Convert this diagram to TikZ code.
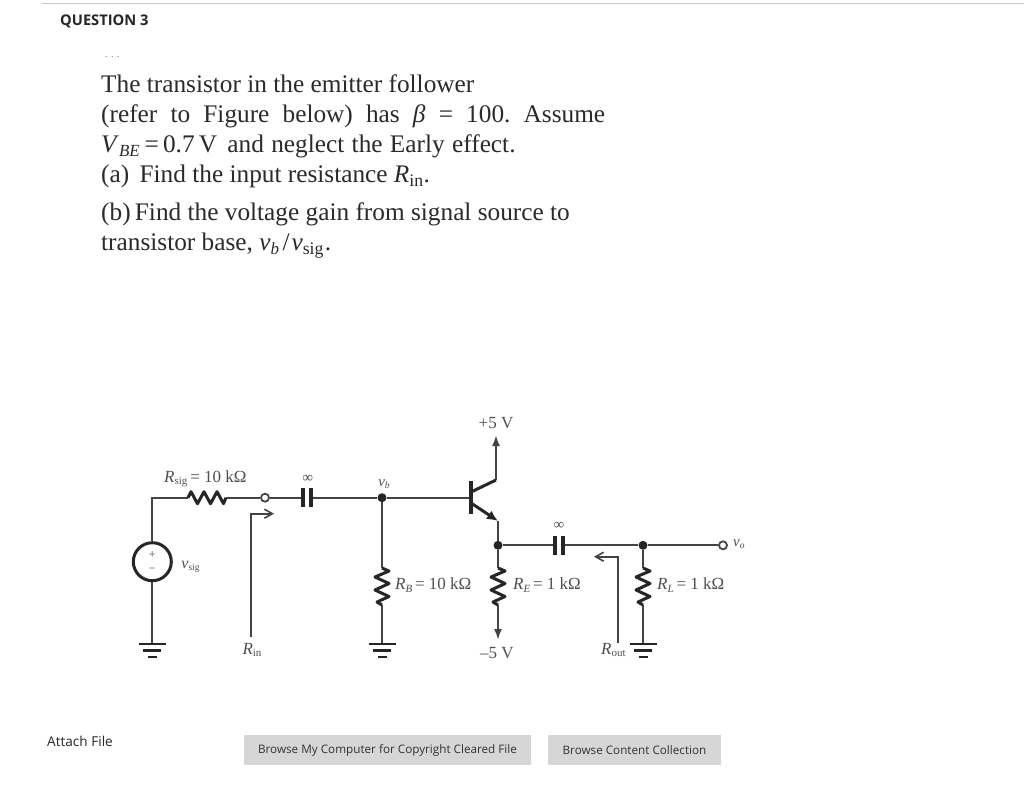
\documentclass[tikz,border=0pt]{standalone}
\usepackage{fontspec}
\setmainfont{Liberation Serif}
\newfontfamily\uifont{Open Sans}
\usetikzlibrary{arrows.meta}
\definecolor{wirec}{HTML}{444444}
\definecolor{labelc}{HTML}{4F4F4F}
\definecolor{textc}{HTML}{2A2A2A}
\newcommand{\subt}[1]{\raisebox{-2.5pt}{\fontsize{11}{11}\selectfont #1}}
\newcommand{\subs}[1]{\raisebox{-2pt}{\fontsize{9.5}{10}\selectfont #1}}
\tikzset{
 wire/.style={draw=wirec,line width=1.9pt},
 heavy/.style={draw=black!85,line width=3pt,line join=round},
 dotnode/.style={circle,fill=black!85,inner sep=0pt,minimum size=9pt},
 opennode/.style={circle,draw=wirec,fill=white,line width=1.8pt,inner sep=0pt,minimum size=8pt},
 para/.style={anchor=base west,inner sep=0pt,text=textc,font=\fontsize{25.3}{25}\selectfont\frenchspacing},
 lab/.style={inner sep=0pt,text=labelc,font=\fontsize{17}{17}\selectfont},
 labw/.style={lab,anchor=west},
 sml/.style={inner sep=0pt,text=labelc,font=\fontsize{15}{15}\selectfont},
 ui/.style={inner sep=0pt,font=\uifont\fontsize{13.6}{14}\selectfont},
 btn/.style={fill=black!16,draw=none,minimum height=30pt,inner sep=0pt,text=black!80,font=\uifont\fontsize{11.7}{12}\selectfont},
 openarrow/.style={-{Straight Barb[length=8pt,width=9pt,line width=1.6pt]}},
 solidarrow/.style={-{Latex[length=11pt,width=8pt]}},
 pics/gnd/.style={code={
   \draw[heavy,line width=2.8pt] (-13.5,0) -- (13.5,0);
   \draw[heavy,line width=2.8pt] (-9,6.5) -- (9,6.5);
   \draw[heavy,line width=2.8pt] (-4.5,13) -- (4.5,13);
 }},
 pics/hres/.style={code={
   \draw[heavy] (0,0) -- (3,-6) -- (9.5,6) -- (16,-6) -- (22.5,6) -- (29,-6) -- (35.5,6) -- (38,0);
 }},
 pics/vres/.style={code={
   \draw[heavy] (0,0) -- (7,3) -- (-7,9) -- (7,15.5) -- (-7,22) -- (7,28.5) -- (-5,34) -- (0,37);
 }},
 pics/vcap/.style={code={
   \draw[heavy,line width=3.4pt] (-4,-9.5) -- (-4,9.5);
   \draw[heavy,line width=3.4pt] (4,-9.5) -- (4,9.5);
 }},
}
\begin{document}
\begin{tikzpicture}[x=1pt,y=-1pt]
\useasboundingbox (0,0) rectangle (1024,796);
\fill[white] (0,0) rectangle (1024,796);
% page furniture
\coordinate (ruleL) at (42,3);
\coordinate (ruleR) at (1024,3);
\draw[black!20,line width=1pt] (ruleL) -- (ruleR);
\node[ui,anchor=base west,font=\uifont\bfseries\fontsize{14.7}{15}\selectfont,text=black!85] (qn) at (60,25) {QUESTION 3};
\node[anchor=west,inner sep=0pt,text=black!55,font=\fontsize{10}{10}\selectfont] (dots) at (105,57) {. . .};
\node[ui,anchor=base west,text=black!85] (attach) at (47,746) {Attach File};
\node[btn,minimum width=287pt] (b1) at (387.5,750) {Browse My Computer for Copyright Cleared File};
\node[btn,minimum width=173pt] (b2) at (634.5,750) {Browse Content Collection};
% question text
\node[para] (t1) at (101,92) {The transistor in the emitter follower};
\node[para] (t2) at (101,122.5) {\hbox to 504pt{(refer to Figure below) has \textit{β} = 100. Assume}};
\node[para] (t3) at (101,152.5) {\textit{V}$_{\textit{\fontsize{17}{17}\selectfont BE}}$\,=\,0.7\,V\hspace{4pt} and\hspace{1pt} neglect\hspace{1pt} the\hspace{1pt} Early\hspace{1pt} effect.};
\node[para] (t4) at (101,182.5) {(a)\hspace{4pt} Find the input resistance \textit{R}$_{\fontsize{17}{17}\selectfont\mathrm{in}}$.};
\node[para] (t5) at (101,220.5) {(b)\,Find the voltage gain from signal source to};
\node[para] (t6) at (101,250.5) {transistor base, \textit{v}$_{\textit{\fontsize{17}{17}\selectfont b}}$\hspace{3pt}/\hspace{2pt}\textit{v}$_{\fontsize{18}{18}\selectfont\mathrm{sig}}$\hspace{1pt}.};
% circuit coordinates
\coordinate (corner) at (152.3,497.7);
\coordinate (rsigL) at (188,497.7);
\coordinate (rsigR) at (226,497.7);
\node[opennode] (inp) at (265,497.7) {};
\coordinate (c1L) at (303,497.7);
\coordinate (c1R) at (311,497.7);
\node[dotnode] (vb) at (382,497.7) {};
\coordinate (base) at (471,497.7);
\node[circle,draw=black!85,line width=3pt,minimum size=38pt,inner sep=0pt] (src) at (152.3,561.7) {};
\coordinate (g1) at (152.3,644);
\coordinate (g2) at (382,644);
\coordinate (g3) at (643,644);
\coordinate (rbT) at (382,568);
\coordinate (rbB) at (382,605);
\coordinate (reT) at (498,568);
\coordinate (reB) at (498,605);
\coordinate (rlT) at (643,568);
\coordinate (rlB) at (643,605);
\coordinate (cT) at (471,492);
\coordinate (cK) at (496,480);
\coordinate (vcc) at (496,435);
\coordinate (eB) at (471,503);
\coordinate (eK) at (498,521);
\node[dotnode] (ve) at (498,545.3) {};
\coordinate (c2L) at (555,545.3);
\coordinate (c2R) at (563,545.3);
\node[dotnode] (vl) at (643,545.3) {};
\node[opennode] (out) at (723,545.3) {};
\coordinate (vee) at (498,640);
\coordinate (rinB) at (250.7,637);
\coordinate (rinK) at (250.7,513.7);
\coordinate (rinT) at (274,513.7);
\coordinate (routB) at (617.7,642.7);
\coordinate (routK) at (617.7,556.7);
\coordinate (routT) at (594,556.7);
\coordinate (barT) at (471,481);
\coordinate (barB) at (471,514);
% wires
\draw[wire] (src) -- (corner) -- (rsigL);
\draw[wire] (src) -- (g1);
\draw[wire] (rsigR) -- (inp);
\draw[wire] (inp) -- (c1L);
\draw[wire] (c1R) -- (vb);
\draw[wire] (vb) -- (base);
\draw[wire] (vb) -- (rbT);
\draw[wire] (rbB) -- (g2);
\draw[wire] (ve) -- (c2L);
\draw[wire] (c2R) -- (vl);
\draw[wire] (vl) -- (out);
\draw[wire] (vl) -- (rlT);
\draw[wire] (rlB) -- (g3);
\draw[wire] (eK) -- (ve);
\draw[wire] (ve) -- (reT);
\draw[wire,solidarrow] (reB) -- (vee);
\draw[wire,line width=2.4pt,solidarrow] (cK) -- (vcc);
% measurement arrows
\draw[wire,openarrow] (rinB) -- (rinK) -- (rinT);
\draw[wire,openarrow] (routB) -- (routK) -- (routT);
% components
\pic at (rsigL) {hres};
\pic at (rbT) {vres};
\pic at (reT) {vres};
\pic at (rlT) {vres};
\pic at (307,497.7) {vcap};
\pic at (559,545.3) {vcap};
\pic at (g1) {gnd};
\pic at (g2) {gnd};
\pic at (g3) {gnd};
% transistor
\draw[heavy,line width=3.4pt] (barT) -- (barB);
\draw[heavy] (cT) -- (cK);
\draw[heavy,-{Latex[length=11pt,width=10pt]}] (eB) -- (eK);
% source signs
\node[lab,font=\fontsize{12}{12}\selectfont] (plus) at (152.3,555.5) {+};
\node[lab,font=\fontsize{12}{12}\selectfont] (minus) at (152.3,570) {−};
% labels
\node[lab,anchor=base west] (lrsig) at (164,482) {\textit{R}\subt{sig}\,= 10 kΩ};
\node[sml] (inf1) at (307.7,479) {∞};
\node[sml] (lvb) at (384,484) {\textit{v}\subs{\textit{b}}};
\node[lab] (lvcc) at (496,423) {+5 V};
\node[lab] (lvee) at (497,653) {–5 V};
\node[sml,font=\fontsize{16}{16}\selectfont] (lvsig) at (190.5,567) {\textit{v}\subs{sig}};
\node[labw] (lrb) at (395,585) {\textit{R}\subt{\textit{B}}\,= 10 kΩ};
\node[labw] (lre) at (513,585) {\textit{R}\subt{\textit{E}}\,= 1 kΩ};
\node[labw] (lrl) at (657,585) {\textit{R}\subt{\textit{L}}\,= 1 kΩ};
\node[sml] (inf2) at (559,526) {∞};
\node[labw,font=\fontsize{15}{15}\selectfont] (lvo) at (733,544) {\textit{v}\subs{\textit{o}}};
\node[lab] (lrin) at (252,650) {\textit{R}\subt{in}};
\node[labw] (lrout) at (601,650) {\textit{R}\subt{out}};
\end{tikzpicture}
\end{document}
